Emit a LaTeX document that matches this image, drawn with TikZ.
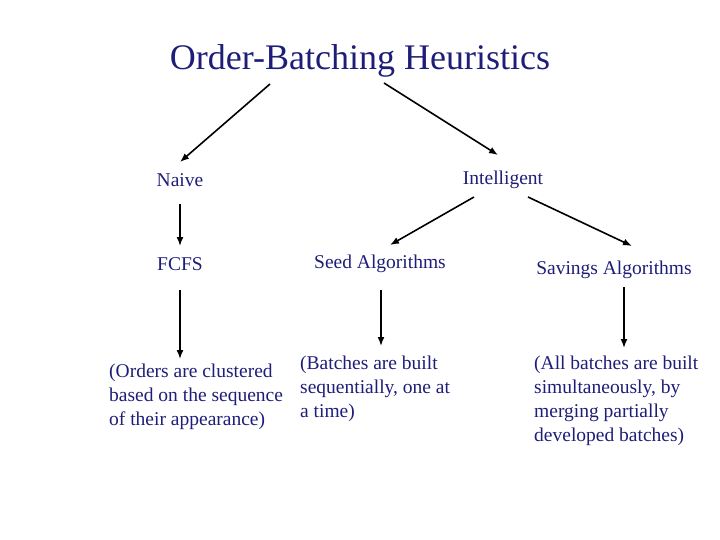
\documentclass[tikz,border=0pt]{standalone}
\usepackage{fontspec}
\setmainfont{Liberation Serif}
\usetikzlibrary{arrows.meta}
\definecolor{titleblue}{RGB}{30,30,120}
\begin{document}
\begin{tikzpicture}[x=1pt,y=-1pt,
  lbl/.style={font=\fontsize{19.5}{24}\selectfont,inner sep=0pt,text=titleblue},
  para/.style={lbl,anchor=north west,align=left},
  arr/.style={-{Latex[length=9pt,width=7pt]},line width=1.6pt}]
\useasboundingbox (0,0) rectangle (720,540);
\node[font=\fontsize{36}{40}\selectfont,text=titleblue,inner sep=0pt] (title) at (360,61) {Order-Batching Heuristics};
\node[lbl] (naive) at (180,180) {Naive};
\node[lbl] (intel) at (503,180) {Intelligent};
\node[lbl] (fcfs) at (180,264) {FCFS};
\node[lbl] (seed) at (380,264) {Seed Algorithms};
\node[lbl] (sav) at (614,270) {Savings Algorithms};
\node[para] (p1) at (109,364) {(Orders are clustered\\based on the sequence\\of their appearance)};
\node[para] (p2) at (300,356) {(Batches are built\\sequentially, one at\\a time)};
\node[para] (p3) at (534,356) {(All batches are built\\simultaneously, by\\merging partially\\developed batches)};
\coordinate (a1) at (270,84); \coordinate (b1) at (180,162);
\coordinate (a2) at (384,83); \coordinate (b2) at (498,155);
\coordinate (a3) at (180,204); \coordinate (b3) at (180,246);
\coordinate (a4) at (474,197); \coordinate (b4) at (390,245);
\coordinate (a5) at (528,197); \coordinate (b5) at (632,246);
\coordinate (a6) at (180,290); \coordinate (b6) at (180,359);
\coordinate (a7) at (381,290); \coordinate (b7) at (381,346);
\coordinate (a8) at (624,287); \coordinate (b8) at (624,348);
\foreach \i in {1,...,8} \draw[arr] (a\i) -- (b\i);
\end{tikzpicture}
\end{document}
